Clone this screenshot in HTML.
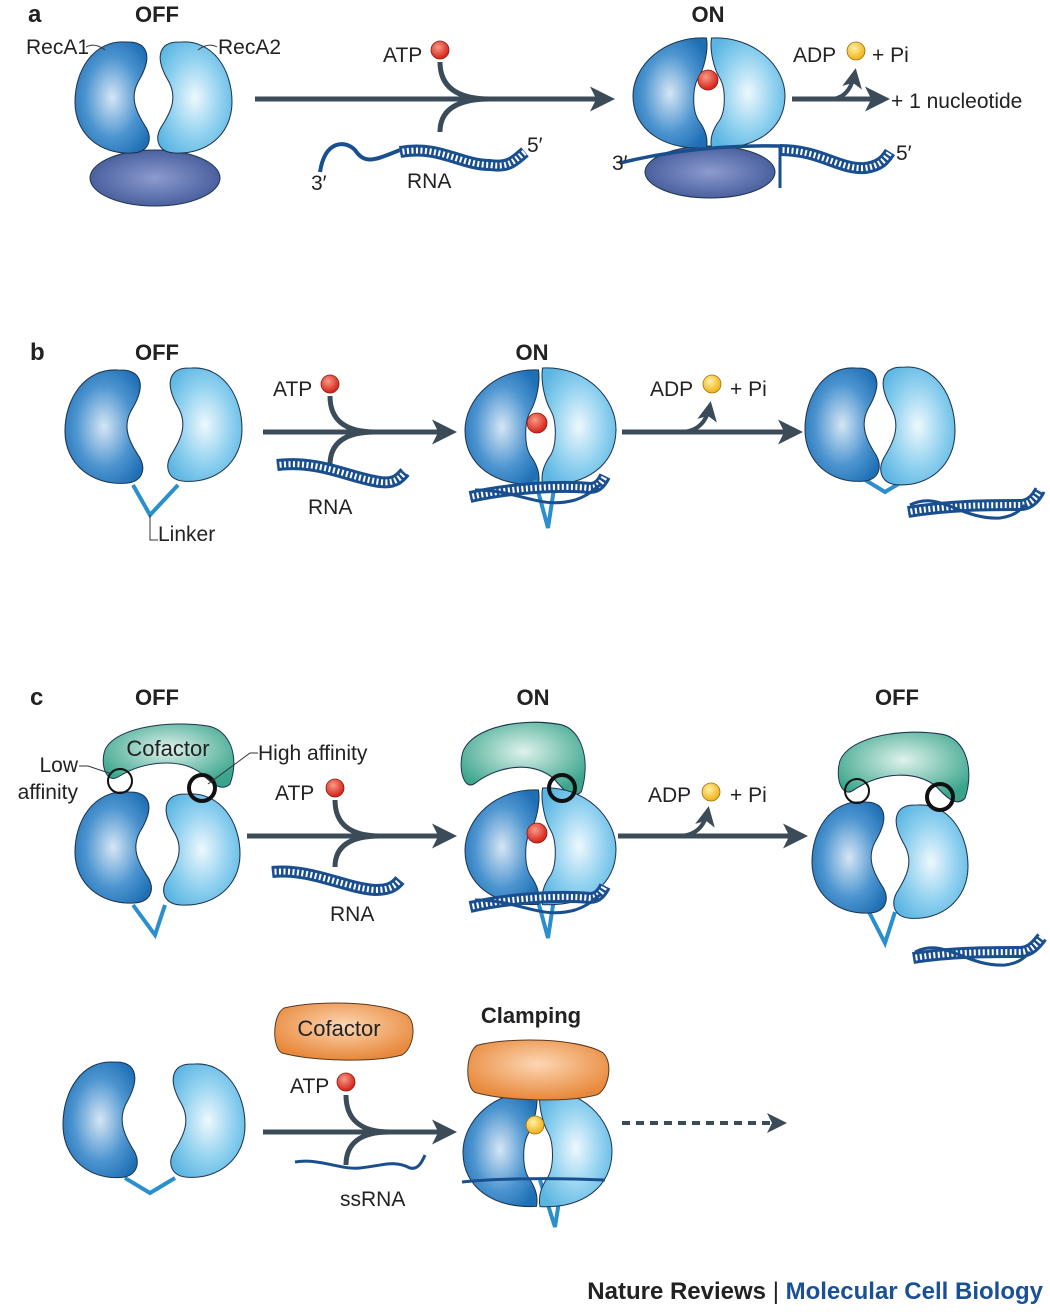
<!DOCTYPE html>
<html><head><meta charset="utf-8"><style>
body{margin:0;background:#fff}
svg text{font-family:"Liberation Sans",sans-serif;fill:#222}
.r1{stroke:#1a4f8f;stroke-width:12;fill:none}
.r2{stroke:#fff;stroke-width:6;fill:none}
.r3{stroke:#1a4f8f;stroke-width:7;stroke-dasharray:2.5 2;fill:none}
</style></head><body>
<svg width="1050" height="1307" viewBox="0 0 1050 1307" xmlns="http://www.w3.org/2000/svg">
<defs>
<radialGradient id="g1" cx="0.5" cy="0.5" r="0.6"><stop offset="0" stop-color="#d6e6f5"/><stop offset="0.6" stop-color="#4d95d0"/><stop offset="1" stop-color="#1f6fb5"/></radialGradient>
<radialGradient id="g2" cx="0.5" cy="0.5" r="0.6"><stop offset="0" stop-color="#eef8fd"/><stop offset="0.6" stop-color="#8ed0ef"/><stop offset="1" stop-color="#5bb5e2"/></radialGradient>
<radialGradient id="g3" cx="0.5" cy="0.5" r="0.6"><stop offset="0" stop-color="#8d9bd0"/><stop offset="1" stop-color="#3d5594"/></radialGradient>
<radialGradient id="gg" cx="0.5" cy="0.4" r="0.6"><stop offset="0" stop-color="#dff2ec"/><stop offset="1" stop-color="#3aa58c"/></radialGradient>
<radialGradient id="go" cx="0.5" cy="0.4" r="0.6"><stop offset="0" stop-color="#fcd7b4"/><stop offset="1" stop-color="#e8883a"/></radialGradient>
<radialGradient id="gr" cx="0.4" cy="0.35" r="0.6"><stop offset="0" stop-color="#f79a86"/><stop offset="1" stop-color="#d8281e"/></radialGradient>
<radialGradient id="gy" cx="0.4" cy="0.35" r="0.6"><stop offset="0" stop-color="#fff0a6"/><stop offset="1" stop-color="#f2b51f"/></radialGradient>
<marker id="ah" viewBox="0 0 10 10" refX="8" refY="5" markerWidth="5" markerHeight="5" orient="auto"><path d="M0,0 L10,5 L0,10 L2.5,5 Z" fill="#3b4c58"/></marker>
<path id="L" d="M48,2 C18,0 0,30 0,62 C0,95 25,115 55,113 C70,112 74,100 68,88 C58,72 52,58 60,42 C68,28 72,14 64,6 C59,2 54,2 48,2 Z" stroke="#1d3550" stroke-width="1"/>
<path id="LC" d="M72,0 C30,-2 0,28 0,58 C0,92 30,112 72,110 C74,100 70,90 64,82 C58,72 58,50 64,40 C70,30 74,12 72,0 Z" stroke="#1d3550" stroke-width="1"/>
<path id="COF" d="M5,28 C15,5 70,-2 108,4 C130,8 140,35 130,62 C122,70 112,62 102,52 C82,36 45,38 18,55 C6,62 0,42 5,28 Z" fill="url(#gg)" stroke="#1d3550" stroke-width="1"/>
<path id="OR" d="M12,5 C45,-3 110,-2 135,12 C145,20 142,45 130,52 C100,60 40,58 10,50 C0,45 0,12 12,5 Z" fill="url(#go)" stroke="#5a3a20" stroke-width="1"/>
<path id="RA" d="M400,152 C440,145 460,165 490,165 C510,168 515,160 525,152"/>
</defs>

<!-- ===== Panel a ===== -->
<text x="28" y="22" font-size="24" font-weight="bold">a</text>
<text x="157" y="22" font-size="22" font-weight="bold" text-anchor="middle">OFF</text>
<ellipse cx="155" cy="178" rx="65" ry="28" fill="url(#g3)" stroke="#1d3550"/>
<use href="#L" fill="url(#g1)" transform="translate(75,40) scale(1.05,1)"/>
<use href="#L" fill="url(#g2)" transform="translate(232,40) scale(-1.05,1)"/>
<text x="26" y="54" font-size="21">RecA1</text>
<path d="M86,47 Q95,42 105,50" stroke="#333" fill="none"/>
<text x="218" y="54" font-size="21">RecA2</text>
<path d="M217,47 Q208,42 198,50" stroke="#333" fill="none"/>

<line x1="255" y1="99" x2="610" y2="99" stroke="#3b4c58" stroke-width="5" marker-end="url(#ah)"/>
<path d="M440,62 Q440,99 490,99 M440,132 Q440,99 490,99" stroke="#3b4c58" stroke-width="5" fill="none"/>
<text x="383" y="62" font-size="21">ATP</text>
<circle cx="440" cy="50" r="9" fill="url(#gr)" stroke="#8a1a10" stroke-width="0.8"/>
<path d="M320,172 C325,140 345,140 355,150 C365,165 375,160 400,150" stroke="#1a4f8f" stroke-width="4" fill="none"/>
<use href="#RA" class="r1"/><use href="#RA" class="r2"/><use href="#RA" class="r3"/>
<text x="311" y="190" font-size="21">3′</text>
<text x="527" y="152" font-size="21">5′</text>
<text x="407" y="188" font-size="21">RNA</text>

<text x="708" y="22" font-size="22" font-weight="bold" text-anchor="middle">ON</text>
<ellipse cx="710" cy="172" rx="65" ry="26" fill="url(#g3)" stroke="#1d3550"/>
<use href="#LC" fill="url(#g1)" transform="translate(633,38) scale(1.02,1)"/>
<use href="#LC" fill="url(#g2)" transform="translate(785,38) scale(-1.02,1)"/>
<circle cx="708" cy="80" r="10" fill="url(#gr)" stroke="#8a1a10" stroke-width="0.8"/>
<path d="M620,163 C680,148 740,145 780,146" stroke="#1a4f8f" stroke-width="3.5" fill="none"/>
<line x1="780" y1="146" x2="780" y2="188" stroke="#1a4f8f" stroke-width="3"/>
<path class="r1" d="M780,150 C820,150 840,170 865,168 C880,166 885,160 890,152"/>
<path class="r2" d="M780,150 C820,150 840,170 865,168 C880,166 885,160 890,152"/>
<path class="r3" d="M780,150 C820,150 840,170 865,168 C880,166 885,160 890,152"/>
<text x="612" y="170" font-size="21">3′</text>
<text x="896" y="160" font-size="21">5′</text>
<line x1="792" y1="99" x2="885" y2="99" stroke="#3b4c58" stroke-width="5" marker-end="url(#ah)"/>
<path d="M830,99 Q850,99 855,72" stroke="#3b4c58" stroke-width="4" fill="none" marker-end="url(#ah)"/>
<text x="793" y="62" font-size="21">ADP</text>
<circle cx="856" cy="51" r="9" fill="url(#gy)" stroke="#9a7010" stroke-width="0.8"/>
<text x="872" y="62" font-size="21">+ Pi</text>
<text x="891" y="108" font-size="21">+ 1 nucleotide</text>

<!-- ===== Panel b ===== -->
<text x="30" y="360" font-size="24" font-weight="bold">b</text>
<text x="157" y="360" font-size="22" font-weight="bold" text-anchor="middle">OFF</text>
<path d="M133,485 L150,515 L178,485" stroke="#2a8fcc" stroke-width="4" fill="none"/>
<use href="#L" fill="url(#g1)" transform="translate(65,368) scale(1.1,1.02)"/>
<use href="#L" fill="url(#g2)" transform="translate(242,366) scale(-1.05,1.02)"/>
<path d="M150,515 L150,540 L158,540" stroke="#333" fill="none"/>
<text x="158" y="541" font-size="21">Linker</text>
<line x1="263" y1="432" x2="452" y2="432" stroke="#3b4c58" stroke-width="5" marker-end="url(#ah)"/>
<path d="M330,396 Q330,432 375,432 M330,465 Q330,432 375,432" stroke="#3b4c58" stroke-width="5" fill="none"/>
<text x="273" y="396" font-size="21">ATP</text>
<circle cx="330" cy="384" r="9" fill="url(#gr)" stroke="#8a1a10" stroke-width="0.8"/>
<path class="r1" d="M277,465 C320,460 350,478 380,482 C395,484 400,478 405,472"/>
<path class="r2" d="M277,465 C320,460 350,478 380,482 C395,484 400,478 405,472"/>
<path class="r3" d="M277,465 C320,460 350,478 380,482 C395,484 400,478 405,472"/>
<text x="308" y="514" font-size="21">RNA</text>

<text x="532" y="360" font-size="22" font-weight="bold" text-anchor="middle">ON</text>
<use href="#LC" fill="url(#g1)" transform="translate(465,370) scale(1.02,1.04)"/>
<use href="#LC" fill="url(#g2)" transform="translate(616,368) scale(-1.02,1.06)"/>
<circle cx="537" cy="423" r="10" fill="url(#gr)" stroke="#8a1a10" stroke-width="0.8"/>
<path d="M535,480 L548,528 L555,482" stroke="#2a8fcc" stroke-width="4" fill="none"/>
<path class="r1" d="M470,497 C510,488 560,485 590,488 C598,488 602,482 605,476"/>
<path class="r2" d="M470,497 C510,488 560,485 590,488 C598,488 602,482 605,476"/>
<path class="r3" d="M470,497 C510,488 560,485 590,488 C598,488 602,482 605,476"/>
<path d="M475,490 C520,490 540,510 575,500 C590,495 595,488 600,485" stroke="#1a4f8f" stroke-width="3" fill="none"/>
<line x1="622" y1="432" x2="798" y2="432" stroke="#3b4c58" stroke-width="5" marker-end="url(#ah)"/>
<path d="M680,432 Q705,432 710,405" stroke="#3b4c58" stroke-width="4" fill="none" marker-end="url(#ah)"/>
<text x="650" y="396" font-size="21">ADP</text>
<circle cx="712" cy="384" r="9" fill="url(#gy)" stroke="#9a7010" stroke-width="0.8"/>
<text x="730" y="396" font-size="21">+ Pi</text>

<path d="M862,478 L885,492 L905,480" stroke="#2a8fcc" stroke-width="4" fill="none"/>
<use href="#L" fill="url(#g1)" transform="translate(805,366) scale(1.05,1.02)"/>
<use href="#L" fill="url(#g2)" transform="translate(955,365) scale(-1.05,1.06)"/>
<path class="r1" d="M908,512 C950,505 990,505 1020,505 C1030,505 1036,498 1040,490"/>
<path class="r2" d="M908,512 C950,505 990,505 1020,505 C1030,505 1036,498 1040,490"/>
<path class="r3" d="M908,512 C950,505 990,505 1020,505 C1030,505 1036,498 1040,490"/>
<path d="M910,505 C940,490 960,520 1000,518 C1015,516 1020,510 1025,505" stroke="#1a4f8f" stroke-width="3" fill="none"/>

<!-- ===== Panel c ===== -->
<text x="30" y="705" font-size="24" font-weight="bold">c</text>
<text x="157" y="705" font-size="22" font-weight="bold" text-anchor="middle">OFF</text>
<text x="533" y="705" font-size="22" font-weight="bold" text-anchor="middle">ON</text>
<text x="897" y="705" font-size="22" font-weight="bold" text-anchor="middle">OFF</text>

<path d="M133,905 L155,935 L165,905" stroke="#2a8fcc" stroke-width="4" fill="none"/>
<use href="#COF" transform="translate(100,722)"/>
<use href="#L" fill="url(#g1)" transform="translate(75,790) scale(1.08,1)"/>
<use href="#L" fill="url(#g2)" transform="translate(240,792) scale(-1.08,1)"/>
<circle cx="120" cy="781" r="12" fill="none" stroke="#111" stroke-width="2"/>
<circle cx="202" cy="788" r="13" fill="none" stroke="#111" stroke-width="4"/>
<text x="168" y="756" font-size="22" text-anchor="middle">Cofactor</text>
<text x="78" y="772" font-size="21" text-anchor="end">Low</text>
<text x="78" y="799" font-size="21" text-anchor="end">affinity</text>
<path d="M79,766 L88,766 L112,774" stroke="#333" fill="none"/>
<text x="258" y="760" font-size="21">High affinity</text>
<path d="M258,753 L250,753 L208,784" stroke="#333" fill="none"/>
<line x1="247" y1="836" x2="452" y2="836" stroke="#3b4c58" stroke-width="5" marker-end="url(#ah)"/>
<path d="M335,800 Q335,836 380,836 M335,867 Q335,836 380,836" stroke="#3b4c58" stroke-width="5" fill="none"/>
<text x="275" y="800" font-size="21">ATP</text>
<circle cx="335" cy="788" r="9" fill="url(#gr)" stroke="#8a1a10" stroke-width="0.8"/>
<path class="r1" d="M272,872 C310,868 345,888 375,890 C390,890 395,886 400,880"/>
<path class="r2" d="M272,872 C310,868 345,888 375,890 C390,890 395,886 400,880"/>
<path class="r3" d="M272,872 C310,868 345,888 375,890 C390,890 395,886 400,880"/>
<text x="330" y="921" font-size="21">RNA</text>

<use href="#COF" transform="translate(458,720) scale(0.95,1.15)"/>
<path d="M535,890 L548,938 L555,892" stroke="#2a8fcc" stroke-width="4" fill="none"/>
<use href="#LC" fill="url(#g1)" transform="translate(465,790) scale(1.02,1.04)"/>
<use href="#LC" fill="url(#g2)" transform="translate(616,788) scale(-1.02,1.06)"/>
<circle cx="562" cy="788" r="13" fill="none" stroke="#111" stroke-width="4"/>
<circle cx="537" cy="833" r="10" fill="url(#gr)" stroke="#8a1a10" stroke-width="0.8"/>
<path class="r1" d="M470,907 C510,898 560,895 590,898 C598,898 602,892 605,886"/>
<path class="r2" d="M470,907 C510,898 560,895 590,898 C598,898 602,892 605,886"/>
<path class="r3" d="M470,907 C510,898 560,895 590,898 C598,898 602,892 605,886"/>
<path d="M475,900 C520,900 540,920 575,910 C590,905 595,898 600,895" stroke="#1a4f8f" stroke-width="3" fill="none"/>
<line x1="618" y1="836" x2="803" y2="836" stroke="#3b4c58" stroke-width="5" marker-end="url(#ah)"/>
<path d="M678,836 Q703,836 708,810" stroke="#3b4c58" stroke-width="4" fill="none" marker-end="url(#ah)"/>
<text x="648" y="802" font-size="21">ADP</text>
<circle cx="711" cy="792" r="9" fill="url(#gy)" stroke="#9a7010" stroke-width="0.8"/>
<text x="730" y="802" font-size="21">+ Pi</text>

<use href="#COF" transform="translate(835,730) scale(1,1.1)"/>
<path d="M868,910 L885,943 L895,912" stroke="#2a8fcc" stroke-width="4" fill="none"/>
<use href="#L" fill="url(#g1)" transform="translate(812,800) scale(1.05,1)"/>
<use href="#L" fill="url(#g2)" transform="translate(968,803) scale(-1.05,1.02)"/>
<circle cx="857" cy="791" r="12" fill="none" stroke="#111" stroke-width="2"/>
<circle cx="940" cy="797" r="13" fill="none" stroke="#111" stroke-width="4"/>
<path class="r1" d="M913,958 C950,952 990,952 1020,952 C1030,952 1036,945 1042,937"/>
<path class="r2" d="M913,958 C950,952 990,952 1020,952 C1030,952 1036,945 1042,937"/>
<path class="r3" d="M913,958 C950,952 990,952 1020,952 C1030,952 1036,945 1042,937"/>
<path d="M915,952 C945,937 965,967 1005,965 C1020,963 1025,957 1030,952" stroke="#1a4f8f" stroke-width="3" fill="none"/>

<!-- bottom row -->
<path d="M125,1178 L150,1193 L175,1178" stroke="#2a8fcc" stroke-width="4" fill="none"/>
<use href="#L" fill="url(#g1)" transform="translate(63,1060) scale(1.05,1.04)"/>
<use href="#L" fill="url(#g2)" transform="translate(245,1062) scale(-1.05,1.02)"/>
<use href="#OR" transform="translate(272,1003)"/>
<text x="339" y="1036" font-size="22" text-anchor="middle">Cofactor</text>
<line x1="263" y1="1132" x2="452" y2="1132" stroke="#3b4c58" stroke-width="5" marker-end="url(#ah)"/>
<path d="M346,1095 Q346,1132 390,1132 M346,1165 Q346,1132 390,1132" stroke="#3b4c58" stroke-width="5" fill="none"/>
<text x="290" y="1093" font-size="21">ATP</text>
<circle cx="346" cy="1082" r="9" fill="url(#gr)" stroke="#8a1a10" stroke-width="0.8"/>
<path d="M295,1162 C320,1158 340,1170 360,1168 C385,1165 395,1160 410,1168 C418,1170 422,1162 425,1155" stroke="#1a4f8f" stroke-width="3" fill="none"/>
<text x="340" y="1206" font-size="21">ssRNA</text>

<text x="531" y="1023" font-size="22" font-weight="bold" text-anchor="middle">Clamping</text>
<path d="M540,1180 L555,1227 L562,1182" stroke="#2a8fcc" stroke-width="4" fill="none"/>
<use href="#LC" fill="url(#g1)" transform="translate(463,1092) scale(1.02,1.04)"/>
<use href="#LC" fill="url(#g2)" transform="translate(612,1090) scale(-1.0,1.06)"/>
<use href="#OR" transform="translate(465,1040) scale(1.02,1.05)"/>
<circle cx="535" cy="1125" r="9" fill="url(#gy)" stroke="#9a7010" stroke-width="0.8"/>
<path d="M462,1182 C500,1178 560,1178 605,1180" stroke="#1a4f8f" stroke-width="3" fill="none"/>
<line x1="622" y1="1123" x2="783" y2="1123" stroke="#3b4c58" stroke-width="4" stroke-dasharray="8 6" marker-end="url(#ah)"/>

<text x="1043" y="1299" font-size="24" font-weight="bold" text-anchor="end"><tspan fill="#222">Nature Reviews</tspan><tspan fill="#222" font-weight="normal"> | </tspan><tspan fill="#1a5096">Molecular Cell Biology</tspan></text>
</svg>
</body></html>
